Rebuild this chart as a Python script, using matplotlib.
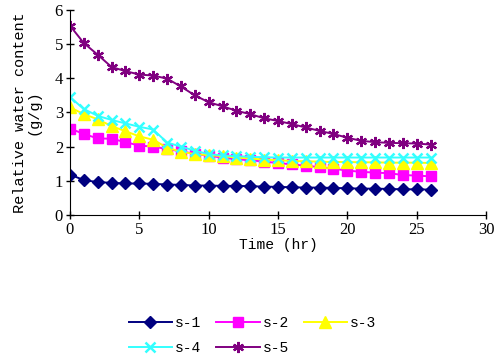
import matplotlib
matplotlib.use("Agg")
import matplotlib.pyplot as plt

time_hr = list(range(27))
s1 = [1.18, 1.02, 0.96, 0.94, 0.92, 0.92, 0.91, 0.89, 0.88, 0.86, 0.86, 0.85, 0.85, 0.84,
      0.83, 0.82, 0.81, 0.80, 0.80, 0.79, 0.78, 0.77, 0.77, 0.76, 0.75, 0.75, 0.74]
s2 = [2.53, 2.37, 2.24, 2.23, 2.13, 2.03, 2.00, 1.93, 1.86, 1.79, 1.73, 1.68, 1.63, 1.60,
      1.56, 1.52, 1.48, 1.44, 1.40, 1.35, 1.30, 1.26, 1.24, 1.22, 1.17, 1.15, 1.13]
s3 = [3.15, 2.95, 2.80, 2.60, 2.45, 2.30, 2.20, 1.97, 1.85, 1.78, 1.75, 1.72, 1.68, 1.65,
      1.62, 1.60, 1.58, 1.57, 1.56, 1.55, 1.55, 1.54, 1.54, 1.53, 1.53, 1.53, 1.52]
s4 = [3.45, 3.10, 2.90, 2.78, 2.68, 2.58, 2.50, 2.12, 2.00, 1.88, 1.78, 1.74, 1.72, 1.70,
      1.69, 1.68, 1.68, 1.68, 1.68, 1.68, 1.68, 1.68, 1.68, 1.68, 1.68, 1.68, 1.68]
s5 = [5.54, 5.03, 4.69, 4.33, 4.21, 4.11, 4.08, 3.99, 3.76, 3.50, 3.30, 3.18, 3.05, 2.95,
      2.83, 2.75, 2.66, 2.56, 2.46, 2.37, 2.26, 2.17, 2.13, 2.11, 2.10, 2.09, 2.06]
labels = ["s-1", "s-2", "s-3", "s-4", "s-5"]
x_ticks = [0, 5, 10, 15, 20, 25, 30]
y_ticks = [0, 1, 2, 3, 4, 5, 6]

FONT = "Liberation Mono"

fig = plt.figure(figsize=(5.0, 3.57), dpi=100)
ax = fig.add_axes([0.14, 0.398, 0.832, 0.574])

styles = [
    dict(color="#000080", marker="D", ms=6.5, mec="#000080", mfc="#000080"),
    dict(color="#FF00FF", marker="s", ms=7, mec="#FF00FF", mfc="#FF00FF"),
    dict(color="#FFFF00", marker="^", ms=8, mec="#FFFF00", mfc="#FFFF00"),
    dict(color="#33FFFF", marker="x", ms=7, mew=1.8),
    dict(color="#800080", marker=(6, 2, 0), ms=8, mew=1.6),
]
handles = []
for ys, lab, st in zip([s1, s2, s3, s4, s5], labels, styles):
    h, = ax.plot(time_hr, ys, lw=1.4, label=lab, **st)
    handles.append(h)

ax.set_xlim(0, 30)
ax.set_ylim(0, 6)
ax.set_xticks(x_ticks)
ax.set_yticks(y_ticks)
ax.spines["top"].set_visible(False)
ax.spines["right"].set_visible(False)
ax.tick_params(direction="inout", length=6, width=1, pad=2)
for t in ax.get_xticklabels() + ax.get_yticklabels():
    t.set_fontfamily("Liberation Serif")
    t.set_fontsize(12)

ax.set_xlabel("Time (hr)", fontfamily=FONT, fontsize=10.5, labelpad=0)
ax.set_ylabel("Relative water content\n(g/g)", fontfamily=FONT, fontsize=11,
              labelpad=10, linespacing=1.0)

order = [0, 3, 1, 4, 2]
fig.legend([handles[i] for i in order], [labels[i] for i in order],
           loc="center", bbox_to_anchor=(0.505, 0.06), ncol=3, frameon=False,
           prop={"family": FONT, "size": 10.5}, handlelength=3.0, handletextpad=0.2,
           columnspacing=1.0, labelspacing=0.75)

fig.savefig("out.png", dpi=100)
